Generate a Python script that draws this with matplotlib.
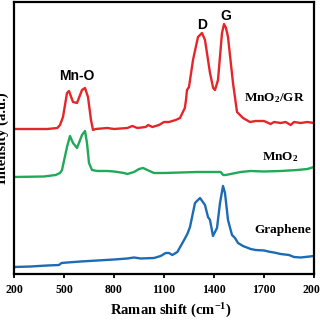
import matplotlib
matplotlib.use("Agg")
import matplotlib.pyplot as plt
import numpy as np

plt.rcParams["mathtext.fontset"] = "custom"
plt.rcParams["mathtext.rm"] = "Liberation Serif:bold"
plt.rcParams["mathtext.it"] = "Liberation Serif:bold"
plt.rcParams["mathtext.bf"] = "Liberation Serif:bold"

# Raman shift (cm-1) and intensity (arbitrary, offset traces; pixel-like units from top)
gr_x = [200, 400, 460, 476, 494, 518, 530, 554, 578, 608, 626, 644, 662, 674, 690, 760,
        800, 880, 910, 940, 990, 1005, 1030, 1070, 1100, 1130, 1170, 1196, 1225, 1232, 1238,
        1250, 1274, 1304, 1328, 1346, 1376, 1395, 1406, 1424, 1448, 1460, 1472, 1484, 1514,
        1538, 1574, 1616, 1650, 1700, 1740, 1760, 1800, 1830, 1860, 1880, 1920, 1960, 2000]
gr_y = [129, 129, 128, 125, 117, 93, 91, 102, 103, 90, 88, 97, 120, 130, 129, 128,
        129, 128, 126, 128, 127, 125, 127, 125, 122, 122, 120, 118, 108, 100, 90,
        87, 60, 37, 33, 40, 73, 88, 90, 80, 33, 24, 28, 37, 83,
        112, 118, 122, 121, 121, 124, 122, 123, 122, 125, 122, 123, 122, 123]

mn_x = [200, 380, 450, 476, 488, 518, 536, 554, 578, 608, 626, 638, 650, 668, 700,
        760, 800, 860, 880, 920, 950, 975, 1000, 1040, 1100, 1200, 1300, 1400, 1440, 1455, 1470,
        1500, 1560, 1620, 1700, 1800, 1900, 1960, 2000]
mn_y = [177, 176.5, 175, 173, 170, 147, 136, 143, 148, 135, 131, 143, 163, 170, 171,
        171, 171.5, 173, 174, 172, 169, 168, 170, 173, 173, 172.5, 172, 172, 172, 175, 175,
        174, 172, 171, 171.5, 171, 170, 169, 167]

g_x = [200, 300, 400, 470, 485, 520, 600, 700, 800, 880, 920, 960, 1040, 1080, 1110, 1130, 1150,
       1180, 1214, 1240, 1256, 1286, 1316, 1346, 1364, 1376, 1394, 1418, 1436, 1454, 1466, 1484,
       1508, 1526, 1544, 1574, 1620, 1650, 1700, 1740, 1760, 1800, 1850, 1880, 1920, 2000]
g_y = [267, 266.5, 265.5, 265, 263, 262.5, 261.5, 260.5, 259.5, 258.5, 257.5, 258.5, 258, 256, 253,
       253, 255, 252, 242, 234, 227, 203, 198, 205, 217, 220, 236, 228, 203, 186, 193, 220,
       235, 238, 243, 246, 249, 250, 250.5, 252, 252.5, 254, 255, 257, 257.5, 256]

xticks = [200, 500, 800, 1100, 1400, 1700, 2000]

W, H = 320, 320
fig = plt.figure(figsize=(3.2, 3.2), dpi=100)
ax = fig.add_axes([14 / W, (H - 274) / H, (314 - 14) / W, (274 - 1.5) / H])

def inten(y):
    return 274 - np.asarray(y, dtype=float)

kw = dict(lw=1.7, solid_joinstyle="round", solid_capstyle="round")
ax.plot(gr_x, inten(gr_y), color="#e4262a", **kw)
ax.plot(mn_x, inten(mn_y), color="#21a95a", **kw)
ax.plot(g_x, inten(g_y), color="#1e6bb5", **kw)

ax.set_xlim(200, 2000)
ax.set_ylim(0, 272.5)
ax.set_xticks(xticks)
ax.set_xticklabels([str(t) for t in xticks], family="Liberation Serif", fontweight="bold", fontsize=8.5)
ax.set_yticks([])
ax.tick_params(axis="x", direction="out", length=3, width=1.3, pad=4)
for s in ax.spines.values():
    s.set_linewidth(1.6)

serif = dict(family="Liberation Serif", fontweight="bold")
sans = dict(family="Liberation Sans", fontweight="bold")
ax.text(1760, inten(98), "MnO$_2$/GR", fontsize=9.5, ha="center", va="center", **serif)
ax.text(1796, inten(157), "MnO$_2$", fontsize=9.5, ha="center", va="center", **serif)
ax.text(1810, inten(230), "Graphene", fontsize=9.5, ha="center", va="center", **serif)
ax.text(578, inten(76), "Mn-O", fontsize=10, ha="center", va="center", **sans)
ax.text(1328, inten(25), "D", fontsize=10, ha="center", va="center", **sans)
ax.text(1472, inten(16), "G", fontsize=10, ha="center", va="center", **sans)

fig.text(171 / W, (H - 311) / H, "Raman shift (cm$^{-1}$)", fontsize=10.5,
         ha="center", va="center", **serif)
fig.text(2 / W, (H - 138) / H, "Intensity (a.u.)", fontsize=10.5, rotation=90,
         ha="center", va="center", **serif)

fig.savefig("out.png", dpi=100)
